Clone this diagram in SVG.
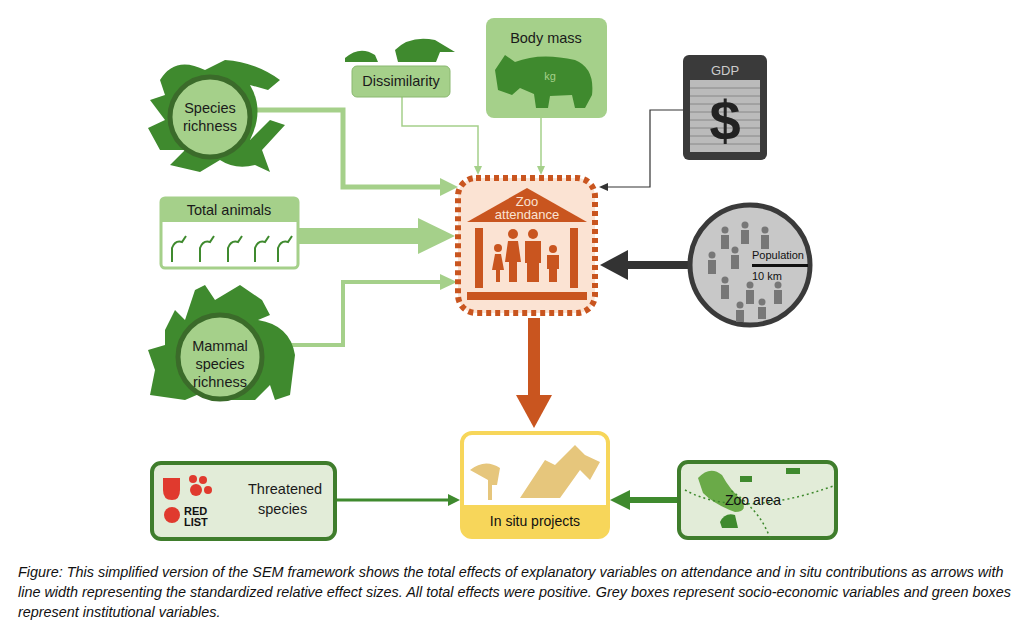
<svg xmlns="http://www.w3.org/2000/svg" width="1024" height="634" viewBox="0 0 1024 634">
<style>
text{font-family:"Liberation Sans",Arial,sans-serif}
.lg{fill:#a5d08a}.dg{fill:#3f8a2e}
.lbl{font-size:14.5px;fill:#1a1a1a}
.cap{font-size:14.4px;font-style:italic;fill:#111}
</style>
<rect width="1024" height="634" fill="#fff"/>
<g id="connectors" fill="none">
<path d="M250,110H343V187H440" stroke="#a5d08a" stroke-width="5"/><path d="M440,178L458,187L440,196Z" fill="#a5d08a"/>
<path d="M298,236H420" stroke="#a5d08a" stroke-width="16"/><path d="M418,218L455,236L418,254Z" fill="#a5d08a"/>
<path d="M262,345H343V282H440" stroke="#a5d08a" stroke-width="4"/><path d="M440,274L457,282L440,290Z" fill="#a5d08a"/>
<path d="M402,97V126H478V170" stroke="#a5d08a" stroke-width="1.5"/><path d="M474,166L478,175L482,166Z" fill="#a5d08a"/>
<path d="M541,118V170" stroke="#a5d08a" stroke-width="1.5"/><path d="M537,166L541,175L545,166Z" fill="#a5d08a"/>
<path d="M683,110H650V187H606" stroke="#333" stroke-width="1.2"/><path d="M608,183L599,187L608,191Z" fill="#333"/>
<path d="M688,265H625" stroke="#333" stroke-width="8"/><path d="M628,250L600,265L628,280Z" fill="#333"/>
<path d="M534,318V395" stroke="#c9551f" stroke-width="12"/><path d="M516,395L534,428L552,395Z" fill="#c9551f"/>
<path d="M336,500H450" stroke="#3f8a2e" stroke-width="3"/><path d="M448,494L460,500L448,506Z" fill="#3f8a2e"/>
<path d="M677,500H628" stroke="#3f8a2e" stroke-width="6"/><path d="M630,490L610,500L630,510Z" fill="#3f8a2e"/>
</g>
<g id="species-richness">
<path class="dg" d="M160,80Q175,55 205,70L225,60Q255,62 280,80L268,90L250,85Q265,110 250,140L270,120L285,125L262,150L270,172L255,165Q235,170 220,160L200,172L170,165L185,150L160,150L148,128L165,120L150,100L165,95Z"/>
<circle cx="210" cy="117" r="40" fill="#a5d08a" stroke="#3b6b2a" stroke-width="5"/>
<text class="lbl" x="210" y="113" text-anchor="middle">Species</text><text class="lbl" x="210" y="131" text-anchor="middle">richness</text>
</g>
<g id="dissimilarity">
<path class="dg" d="M345,58Q360,45 375,55L378,62L345,62Z M395,50Q410,35 435,40L455,52L440,52L436,62L398,62Z"/>
<rect x="352" y="66" width="98" height="31" rx="5" fill="#a5d08a" stroke="#8ab870"/>
<text class="lbl" x="401" y="86" text-anchor="middle">Dissimilarity</text>
</g>
<g id="body-mass">
<rect x="486" y="18" width="121" height="100" rx="8" fill="#a5d08a"/>
<text class="lbl" x="546" y="43" text-anchor="middle">Body mass</text>
<path class="dg" d="M495,70L505,55L515,62Q540,52 575,60Q595,68 592,95L585,108L575,108L572,95L550,96L548,108L536,108L534,94L520,88L512,95L498,90Z"/>
<text x="550" y="80" text-anchor="middle" font-size="11" fill="#a5d08a">kg</text>
</g>
<g id="gdp">
<rect x="683" y="55" width="84" height="105" rx="6" fill="#3a3a3a"/>
<text x="725" y="75" text-anchor="middle" font-size="13" fill="#ccc">GDP</text>
<rect x="690" y="80" width="70" height="72" fill="#bbb"/>
<g stroke="#888" stroke-width="1"><path d="M690,88H760M690,96H760M690,104H760M690,112H760M690,120H760M690,128H760M690,136H760M690,144H760"/></g>
<text x="725" y="140" text-anchor="middle" font-size="56" font-weight="bold" fill="#222">$</text>
</g>
<g id="zoo-attendance">
<rect x="458" y="178" width="137" height="135" rx="18" fill="#fbe3d3" stroke="#c9551f" stroke-width="6" stroke-dasharray="5,4"/>
<path d="M467,222L527,188L587,222Z" fill="#c9551f"/>
<text x="527" y="206" text-anchor="middle" font-size="13" fill="#fbe3d3">Zoo</text>
<text x="527" y="219" text-anchor="middle" font-size="13" fill="#fbe3d3">attendance</text>
<rect x="475" y="228" width="8" height="60" fill="#c9551f"/><rect x="570" y="228" width="8" height="60" fill="#c9551f"/>
<rect x="467" y="292" width="120" height="8" fill="#c9551f"/>
<g fill="#c9551f"><circle cx="498" cy="248" r="4"/><path d="M492,270L495,254H501L504,270H500V282H496V270Z"/><circle cx="513" cy="234" r="5"/><path d="M505,262L508,241H518L521,262H517V282H509V262Z"/><circle cx="533" cy="234" r="5"/><rect x="525" y="241" width="16" height="22"/><rect x="527" y="262" width="12" height="20"/><circle cx="553" cy="249" r="4"/><rect x="547" y="255" width="12" height="14"/><rect x="549" y="268" width="8" height="14"/></g>
</g>
<g id="total-animals">
<rect x="161" y="198" width="137" height="70" rx="4" fill="#fff" stroke="#a5d08a" stroke-width="3"/>
<rect x="161" y="198" width="137" height="24" fill="#a5d08a"/>
<text class="lbl" x="229" y="215" text-anchor="middle">Total animals</text>
<g fill="none" stroke="#3f8a2e" stroke-width="2"><path d="M172,262V248Q175,240 182,242L186,236M200,262V248Q203,240 210,242L214,236M228,262V248Q231,240 238,242L242,236M255,262V248Q258,240 265,242L269,236M278,262V248Q281,240 288,242L292,236"/></g>
</g>
<g id="mammal-species-richness">
<path class="dg" d="M165,330L175,310L185,320L195,290L205,285L215,300L240,285L262,300L270,315L258,320Q290,325 295,355L290,395L275,400L270,385L255,400L230,400L220,385L185,400L150,395L155,370L148,350L165,345Z"/>
<circle cx="220" cy="357" r="42" fill="#a5d08a" stroke="#3b6b2a" stroke-width="5"/>
<text class="lbl" x="220" y="351" text-anchor="middle">Mammal</text><text class="lbl" x="220" y="369" text-anchor="middle">species</text><text class="lbl" x="220" y="387" text-anchor="middle">richness</text>
</g>
<g id="population">
<circle cx="750" cy="265" r="60" fill="#c8c8c8" stroke="#3a3a3a" stroke-width="5"/>
<g fill="#777"><circle cx="725" cy="230" r="3.5"/><rect x="721" y="235" width="8" height="14"/><circle cx="745" cy="225" r="3.5"/><rect x="741" y="230" width="8" height="14"/><circle cx="712" cy="255" r="3.5"/><rect x="708" y="260" width="8" height="14"/><circle cx="735" cy="250" r="3.5"/><rect x="731" y="255" width="8" height="14"/><circle cx="765" cy="230" r="3.5"/><rect x="761" y="235" width="8" height="14"/><circle cx="725" cy="280" r="3.5"/><rect x="721" y="285" width="8" height="14"/><circle cx="750" cy="285" r="3.5"/><rect x="746" y="290" width="8" height="14"/><circle cx="778" cy="285" r="3.5"/><rect x="774" y="290" width="8" height="14"/><circle cx="740" cy="305" r="3.5"/><rect x="736" y="310" width="8" height="12"/><circle cx="762" cy="302" r="3.5"/><rect x="758" y="307" width="8" height="12"/></g>
<text x="752" y="259" font-size="11" fill="#111">Population</text>
<rect x="752" y="264" width="56" height="3" fill="#111"/>
<text x="752" y="280" font-size="11" fill="#111">10 km</text>
</g>
<g id="in-situ-projects">
<rect x="462" y="433" width="146" height="104" rx="10" fill="#fff" stroke="#f7d65a" stroke-width="4"/>
<path d="M462,505H608V527Q608,537 598,537H472Q462,537 462,527Z" fill="#f7d65a"/>
<path d="M470,470Q485,458 500,468L497,485H492V500H488V480Z M520,498L545,460L555,465L575,445L585,455L600,462L590,480L580,470L560,498Z" fill="#e6c67c"/>
<text x="535" y="526" text-anchor="middle" font-size="14" fill="#111">In situ projects</text>
</g>
<g id="threatened-species">
<rect x="152" y="463" width="183" height="76" rx="9" fill="#e2ecd8" stroke="#3f7d2c" stroke-width="4"/>
<path d="M163,478H180V490Q180,500 172,500Q163,500 163,490Z" fill="#e03a2e"/>
<g fill="#e03a2e"><circle cx="193" cy="479" r="4"/><circle cx="203" cy="480" r="4"/><circle cx="196" cy="490" r="6"/><circle cx="208" cy="490" r="4"/><circle cx="172" cy="515" r="8"/></g>
<text x="184" y="515" font-size="11" font-weight="bold" fill="#111">RED</text>
<text x="184" y="526" font-size="11" font-weight="bold" fill="#111">LIST</text>
<text class="lbl" x="248" y="494">Threatened</text>
<text class="lbl" x="258" y="514">species</text>
</g>
<g id="zoo-area">
<rect x="679" y="462" width="157" height="76" rx="9" fill="#e2ecd8" stroke="#3f7d2c" stroke-width="4"/>
<path d="M698,478Q710,465 722,475Q730,490 742,500Q748,512 735,512Q715,505 703,493Z" fill="#6aaa48"/>
<g fill="none" stroke="#3f8a2e" stroke-width="1.5" stroke-dasharray="2,3"><path d="M685,490Q740,520 836,485M770,538Q760,510 730,490"/></g>
<g fill="#3f8a2e"><path d="M786,468H800V474H786Z"/><path d="M740,476H752V482H740Z"/><path d="M720,522Q725,512 735,515L738,528H722Z"/></g>
<text x="753" y="505" text-anchor="middle" font-size="14" fill="#111">Zoo area</text>
</g>
<g id="caption">
<text class="cap" x="18" y="577">Figure: This simplified version of the SEM framework shows the total effects of explanatory variables on attendance and in situ contributions as arrows with</text>
<text class="cap" x="18" y="597">line width representing the standardized relative effect sizes. All total effects were positive. Grey boxes represent socio-economic variables and green boxes</text>
<text class="cap" x="18" y="617">represent institutional variables.</text>
</g>
</svg>
